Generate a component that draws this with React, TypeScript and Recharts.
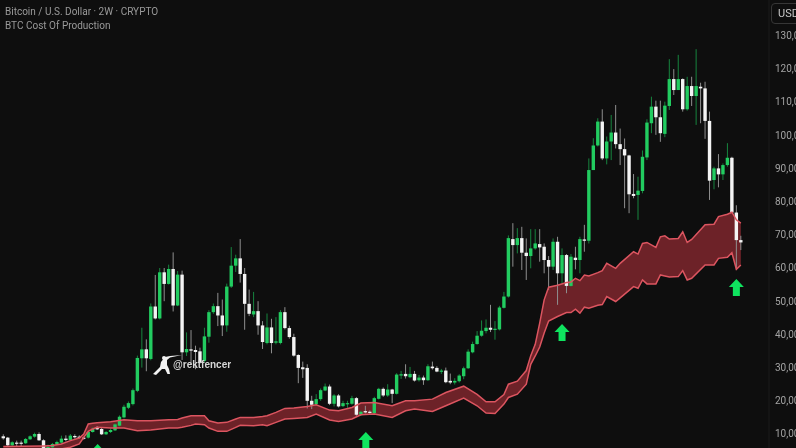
import { Area, Bar, ComposedChart, Line, Scatter, XAxis, YAxis } from "recharts";

// prices are in USD thousands, candle numbers run left to right from 1
const opens = [
  9.3, 8.9, 6.6, 7.4, 7.4, 7.2, 8.4, 9.2, 10, 8.1,
  5.8, 6, 6.8, 7.4, 8.6, 8.2, 9.4, 9.2, 8.9, 8.9,
  10.6, 11.9, 11.5, 9.9, 10.6, 11.1, 12.5, 15, 17.9, 19,
  23, 32.8, 35.5, 32.6, 48.4, 44.8, 58.7, 55.2, 59.7, 48.7,
  58, 34.6, 35.5, 35.3, 34.9, 32, 39.3, 46.7, 48.5, 45.7,
  42.7, 54.4, 60.7, 62.9, 58.2, 49.2, 46, 47, 42.7, 37.4,
  42.1, 37.5, 37.4, 46.7, 41.9, 39.2, 33.8, 30.1, 29.9, 20,
  19, 20.5, 23.1, 24.3, 19.1, 21.6, 18.4, 19.1, 19.1, 20.8,
  15.8, 16.9, 16.7, 16.3, 20.6, 23.6, 21.6, 23.4, 22.1, 27.6,
  28.1, 27.1, 28.1, 26.2, 27, 26.2, 30.3, 29.9, 28.9, 29.1,
  26, 25.5, 25.9, 27.4, 29.8, 34.6, 37.1, 39.6, 41, 42,
  41.5, 41.5, 48, 51.4, 68.7, 66.9, 69, 64.6, 63.6, 65.9,
  67.2, 66.4, 62.4, 60.4, 67.9, 58.4, 63.9, 54.6, 63.1, 62.4,
  68.6, 68.2, 89.5, 96.9, 104.1, 93, 98.1, 100.8, 97.3, 95.8,
  93.9, 82.3, 82, 83.2, 93.3, 103.6, 108.6, 105.4, 100.4, 108.8,
  116.9, 113.6, 116.9, 107.8, 114.8, 111.8, 114.6, 114.1, 104.3, 86.5,
  90, 88.2, 91, 93.2, 76.7, 68.4,
];

const closes = [
  8.7, 6.6, 7.5, 7.2, 7.2, 8.5, 9.3, 10, 8.1, 5.8,
  6.1, 7, 7.6, 8.6, 8.2, 9.5, 9, 8.9, 8.6, 10.6,
  11.6, 11.4, 9.9, 10.6, 11.2, 12.9, 15.2, 18.2, 19.3, 23.2,
  32.9, 35.5, 32.8, 48.4, 44.8, 58.7, 55.2, 59.7, 48.7, 58,
  34.6, 35.6, 35.1, 34.7, 31.6, 39.4, 46.7, 48.5, 45.7, 42.7,
  54.4, 60.7, 62.9, 58.2, 49.2, 46.2, 47, 42.7, 37.7, 42.1,
  37.4, 37.9, 46.7, 41.9, 39.2, 33.6, 29.9, 29.5, 20, 18.8,
  20.5, 23.2, 24.3, 19.1, 21.6, 18.3, 19.3, 19.3, 20.8, 15.8,
  16.7, 16.5, 16.5, 20.8, 23.6, 21.6, 23.4, 22.1, 27.9, 28,
  27.4, 28.1, 26.1, 27, 26.2, 30.4, 29.8, 28.8, 29.1, 25.6,
  25.5, 26, 27.6, 29.8, 34.8, 37.1, 39.6, 41.1, 42, 41.4,
  41.7, 48.1, 51.4, 69, 66.9, 69, 64.6, 63.6, 65.9, 67.4,
  66.2, 62.4, 60.4, 67.9, 58.4, 63.9, 54.6, 63.4, 62.4, 68.7,
  68.2, 89.5, 96.9, 104.1, 93, 98.1, 100.8, 97.3, 95.8, 93.9,
  82.2, 81.7, 83.3, 93.5, 103.8, 108.6, 105.4, 100.6, 108.9, 116.9,
  113.6, 116.9, 107.8, 114.8, 111.8, 114.8, 114.1, 104.3, 86.3, 90,
  88.2, 91, 93.2, 76.7, 68.4, 67.7,
];

const highs = [
  9.9, 9.1, 7.8, 8, 8, 8.8, 9.6, 10.4, 10.5, 8.4,
  6.8, 7.3, 8, 9.5, 9.6, 10, 9.9, 9.6, 9.2, 11,
  12, 12.4, 11.9, 10.9, 11.6, 13.2, 15.6, 18.8, 19.8, 23.7,
  33.6, 42, 38.5, 49.3, 57.9, 60, 60, 61, 64.7, 59.1,
  59.2, 40.6, 41.3, 36.6, 36, 42, 47.3, 49.3, 52.5, 50.5,
  55.3, 66.3, 64, 68.7, 60, 53.5, 52.8, 50, 44, 46.3,
  44.7, 45.2, 47.3, 48.2, 42.6, 40.2, 34, 31.8, 31, 21.5,
  22, 23.7, 25.2, 24.9, 22, 22, 20, 20, 21.5, 21.1,
  17, 18.5, 17.1, 21.2, 23.9, 24, 25, 23.6, 28.3, 29,
  31, 30.2, 29, 27.8, 27.6, 31, 31.8, 30.4, 29.6, 30,
  28.2, 26.8, 28, 30.3, 35.5, 37.8, 41, 44.2, 44.5, 48.9,
  44, 48.6, 52.8, 69.8, 73.5, 72, 72.4, 68.9, 71.7, 71.7,
  71.7, 67.4, 63.6, 68.9, 69.4, 65.9, 64.2, 64.2, 66.4, 69.4,
  73, 93, 99.1, 105.1, 107.8, 99.6, 106.1, 109.1, 102, 99,
  94.1, 88.3, 87.5, 95.4, 104.8, 111.6, 110.4, 110.4, 110.1, 122.9,
  119.9, 124.2, 117.1, 117.6, 117.6, 125.9, 115.8, 116.1, 107.1, 90.5,
  94.3, 91.5, 97.6, 93.5, 78.9, 69.7,
];

const lows = [
  8.3, 6.3, 6.2, 6.2, 6.3, 7, 8.2, 8.9, 7.9, 5.4,
  5.6, 5.8, 6.6, 7.2, 7.8, 8, 8.6, 8.6, 8.3, 8.6,
  10.4, 11.2, 9.7, 9.7, 10.3, 10.9, 12.3, 14.7, 17.5, 18.6,
  22.6, 30, 28.9, 32.2, 44.5, 44.5, 50, 55, 46.9, 48.5,
  32.3, 33.5, 31, 29.5, 31.2, 31.5, 37.5, 46.2, 42.5, 39.5,
  40.8, 54, 58.8, 55.6, 41.4, 45.5, 45.2, 39.9, 35.6, 37,
  34.3, 37, 37, 41.5, 38.7, 33.3, 25.3, 26.9, 17.7, 17.5,
  18.5, 20, 22.9, 18.7, 18.3, 18, 18.1, 17.9, 18.8, 15.5,
  15.4, 16.2, 16.1, 16, 20.4, 21.2, 21.2, 19.3, 21.9, 26.6,
  26.7, 26.8, 25.8, 25.8, 24.8, 26, 29.4, 28.6, 28.1, 25.3,
  25, 24.9, 25.5, 26.5, 29.6, 34.3, 36.9, 39.3, 40.3, 40.7,
  38.4, 41.2, 47.8, 51.1, 60.4, 64.4, 59.4, 56.4, 59.9, 65.5,
  61.9, 58.4, 53.4, 59.4, 48.9, 55.4, 52.4, 54.4, 59.6, 58.4,
  64.9, 67.4, 89.5, 96.6, 92.5, 91.2, 92.5, 96, 91, 78,
  76.5, 81, 74.5, 82.5, 92.5, 100.6, 100.1, 98, 99.4, 107.6,
  112.1, 113.6, 107.1, 107.4, 108.8, 103.1, 103.6, 98.9, 80.5, 83.7,
  84.3, 86.5, 90.5, 76.5, 59.4, 65.4,
];

// cost of production band, read at the candles where it bends
const bandCandles = [
  1, 10, 12, 14, 16, 18, 19, 20, 21, 22, 25, 28, 31, 34, 38, 40, 41, 43, 44, 46,
  47, 49, 51, 53, 54, 57, 59, 60, 62, 64, 66, 69, 71, 74, 76, 79, 81, 84, 88, 91,
  93, 97, 100, 104, 107, 109, 111, 113, 114, 116, 118, 119, 120, 121, 122, 123, 125, 127, 128, 129,
  130, 131, 132, 134, 135, 136, 138, 139, 142, 143, 144, 145, 147, 148, 149, 150, 152, 153, 154, 155,
  158, 160, 161, 163, 164, 165, 166,
];

const bandUpper = [
  6.2, 6.4, 6.5, 7, 8, 8.8, 10, 13, 13.2, 13.4, 13.7, 14.3, 14, 14, 14.3, 14.4, 14.8, 15.5, 15.5, 15.5,
  14, 13.3, 13.5, 14.5, 15, 15, 15.3, 15.5, 16.5, 17.7, 17.8, 18.3, 18.8, 17.2, 17, 18, 19.3, 19.5, 18.5, 20,
  20, 20.5, 22.5, 24.4, 21.9, 19.7, 19.7, 21.9, 25, 25.9, 29.1, 33.6, 37, 43.4, 50.4, 54.2, 54.8, 55.6, 55.8, 56.9,
  56.2, 57.9, 57.6, 58.6, 59.2, 61.4, 59.9, 61.4, 64.9, 64.2, 67.4, 67.7, 66.2, 69.4, 69.7, 68.7, 68.9, 70.9, 67.7, 68.6,
  73, 73.2, 75.5, 76.2, 76.8, 74.5, 73.5,
];

const bandLower = [
  5.5, 5.4, 5.4, 5.5, 6, 7, 9, 10.8, 11.5, 12, 11.8, 11.8, 11, 11.2, 11.8, 11.8, 12, 12.6, 13, 12.8,
  11.8, 10.8, 10.8, 12, 12.6, 12.5, 12.8, 12.5, 13.5, 14.5, 14.7, 15, 16, 14.2, 13.8, 14.5, 15.8, 16, 15, 17,
  17.5, 16.8, 18.5, 20.8, 18.5, 16.3, 16.2, 19, 21, 22, 25, 31, 33.5, 36.2, 40.4, 44, 45.4, 46.6, 46.6, 47.6,
  46.4, 48.2, 47.9, 48.8, 49, 51.4, 49.9, 51, 54.4, 53.9, 56.4, 55.2, 55.2, 57.9, 57.6, 57.3, 57.4, 59.2, 56.4, 56.9,
  60.9, 60.9, 62.9, 63.2, 64.6, 59.6, 60.9,
];

// green signal arrows, the price is where the arrow tip sits
const arrowCandles = [22.1, 82.1, 126, 165];
const arrowPrices = [7, 10.6, 43.1, 56.7];

const priceTicks = [10, 20, 30, 40, 50, 60, 70, 80, 90, 100, 110, 120, 130];

const candleRows = opens.map((open, i) => ({
  n: i + 1,
  open,
  close: closes[i],
  high: highs[i],
  low: lows[i],
  range: [lows[i], highs[i]],
}));

const bandRows = bandCandles.map((n, i) => ({
  n,
  upper: bandUpper[i],
  lower: bandLower[i],
  band: [bandLower[i], bandUpper[i]],
}));

const arrowRows = arrowCandles.map((n, i) => ({ n, price: arrowPrices[i] }));

const BG = "#0e0e0e";
const UP = "#22cc60";
const BODY_WIDTH = 3.4;

function Candle(props: any) {
  const { x, y, width, height, payload } = props;
  const { open, close, high, low } = payload;
  const up = close >= open;
  const perUnit = height / (high - low);
  const yOf = (v: number) => y + (high - v) * perUnit;
  const cx = x + width / 2;
  const top = yOf(Math.max(open, close));
  const bottom = yOf(Math.min(open, close));
  return (
    <g>
      <line x1={cx} x2={cx} y1={y} y2={y + height} stroke={up ? "#17853f" : "#8f8f8f"} strokeWidth={1} />
      <rect
        x={cx - BODY_WIDTH / 2}
        y={top}
        width={BODY_WIDTH}
        height={Math.max(bottom - top, 1.2)}
        fill={up ? UP : "#f4f4f4"}
      />
    </g>
  );
}

function Arrow(props: any) {
  const { cx, cy } = props;
  return <path d={`M${cx} ${cy} l7.5 8 h-4 v9 h-7 v-9 h-4 z`} fill="#0fe35f" />;
}

function PriceTick(props: any) {
  const { x, y, payload } = props;
  return (
    <text x={x - 2} y={y + 3.5} fill="#a3a3a3" fontSize={10} fontFamily="Roboto, sans-serif">
      {`${payload.value},000`}
    </text>
  );
}

export default function App() {
  return (
    <div
      style={{
        position: "absolute",
        left: 0,
        top: 0,
        width: 796,
        height: 448,
        overflow: "hidden",
        background: BG,
        filter: "blur(0.4px)",
      }}
    >
      <ComposedChart
        width={796}
        height={448}
        data={candleRows}
        margin={{ top: 0, right: 0, bottom: 0, left: 0 }}
      >
        <XAxis dataKey="n" type="number" domain={[0.26, 172.3]} hide allowDataOverflow />
        <YAxis
          orientation="right"
          width={27}
          type="number"
          domain={[5.78, 140.72]}
          ticks={priceTicks}
          tick={<PriceTick />}
          tickLine={false}
          axisLine={{ stroke: "#1b1b1b" }}
          interval={0}
          allowDataOverflow
        />
        <Area data={bandRows} dataKey="band" stroke="none" fill="#6d2228" fillOpacity={1} isAnimationActive={false} />
        <Line data={bandRows} dataKey="upper" stroke="#dc5560" strokeWidth={1.5} dot={false} isAnimationActive={false} />
        <Line data={bandRows} dataKey="lower" stroke="#dc5560" strokeWidth={1.5} dot={false} isAnimationActive={false} />
        <Bar data={candleRows} dataKey="range" barSize={3} shape={<Candle />} isAnimationActive={false} />
        <Scatter data={arrowRows} dataKey="price" shape={<Arrow />} isAnimationActive={false} />
      </ComposedChart>

      <div style={{ position: "absolute", left: 5, top: 5, color: "#9a9a9a", font: "10px/14px Roboto, sans-serif" }}>
        <div>Bitcoin / U.S. Dollar · 2W · CRYPTO</div>
        <div>BTC Cost Of Production</div>
      </div>

      <div
        style={{
          position: "absolute",
          left: 771,
          top: 3,
          width: 40,
          height: 19,
          border: "1px solid #363636",
          borderRadius: 4,
          background: BG,
          color: "#c8c8c8",
          font: "11px/19px Roboto, sans-serif",
          paddingLeft: 6,
          boxSizing: "content-box",
        }}
      >
        USD
      </div>

      {/* watermark */}
      <svg style={{ position: "absolute", left: 0, top: 0 }} width={796} height={448}>
        <path
          d="M153 374 L160 367 L161 362 L165 357 L170 356 L182 355 L170 357.5 L167 360 L167 365 L169 369 L170 374 L167.5 374 L165 369 L162 369 L156 375 Z"
          fill="#f2f2f2"
        />
        <circle cx={164} cy={358} r={2} fill="#f2f2f2" />
      </svg>
      <div style={{ position: "absolute", left: 173, top: 359, color: "#d6d6d6", font: "bold 10px/12px 'Liberation Sans', sans-serif" }}>
        @rektfencer
      </div>
    </div>
  );
}
